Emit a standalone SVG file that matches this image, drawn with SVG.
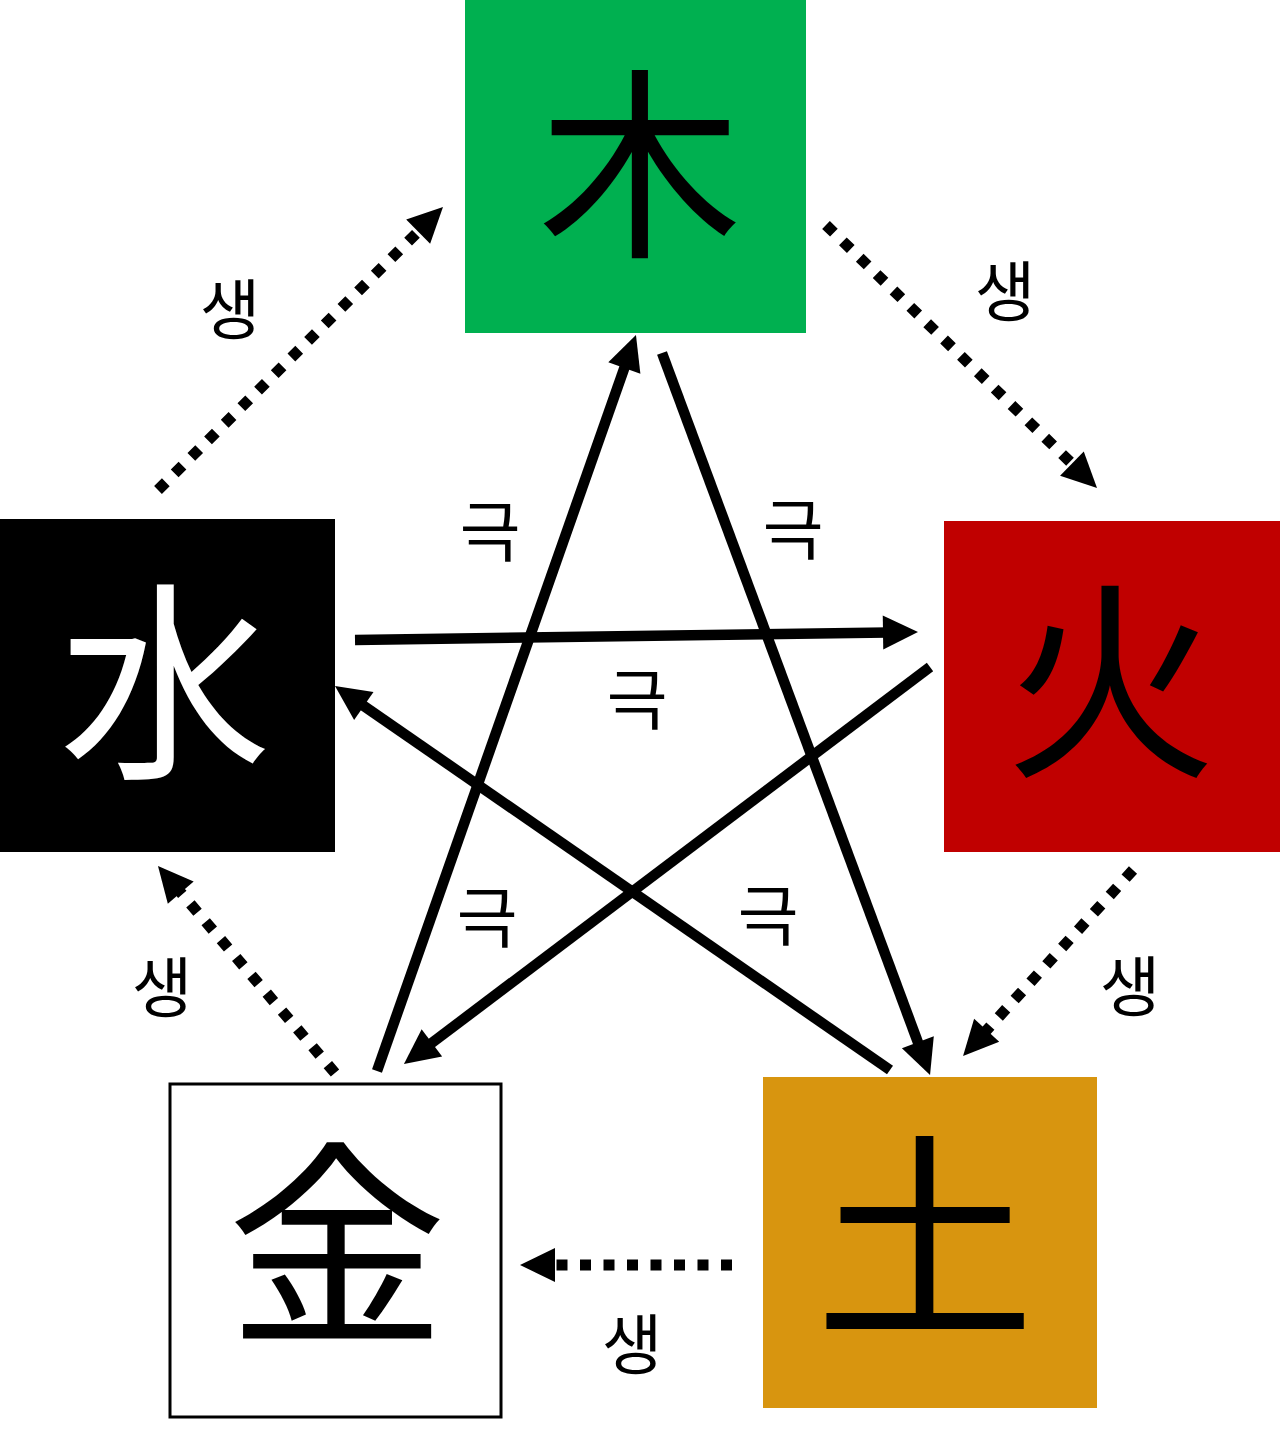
<svg xmlns="http://www.w3.org/2000/svg" width="1280" height="1431" viewBox="0 0 1280 1431">
<style>
.big{font-family:"Noto Sans CJK KR","Noto Sans CJK SC",sans-serif;font-size:212px;text-anchor:middle}
.lbl{font-family:"Noto Sans CJK KR",sans-serif;font-size:66px;text-anchor:middle;fill:#000}
.dot{stroke:#000;stroke-width:11;stroke-dasharray:11 12.5;fill:none;marker-end:url(#ah)}
.sol{stroke:#000;stroke-width:10.5;fill:none;marker-end:url(#ah)}
</style>
<defs>
<marker id="ah" markerUnits="userSpaceOnUse" markerWidth="40" markerHeight="40" viewBox="-2 -20 40 40" refX="5" refY="0" orient="auto">
<path d="M0,-17 L35,0 L0,17 z" fill="#000"/>
</marker>
</defs>
<rect width="1280" height="1431" fill="#fff"/>
<g id="wood"><rect x="465" y="0" width="341" height="333" fill="#00B050"/><text class="big" x="640" y="242" fill="#000" style="font-size:204px">木</text></g>
<g id="fire"><rect x="944" y="521" width="336" height="331" fill="#C00000"/><text class="big" x="1111" y="761" fill="#000">火</text></g>
<g id="earth"><rect x="763" y="1077" width="334" height="331" fill="#D8950F"/><text class="big" x="925" y="1321" fill="#000" style="font-size:220px">土</text></g>
<g id="metal"><rect x="170" y="1084" width="331" height="333" fill="#fff" stroke="#000" stroke-width="3"/><text class="big" x="337" y="1328" fill="#000" style="font-size:220px">金</text></g>
<g id="water"><rect x="0" y="519" width="335" height="333" fill="#000"/><text class="big" x="165" y="763" fill="#fff">水</text></g>
<g id="connectors">
<line class="dot" x1="158" y1="490" x2="421.7" y2="228.1"/>
<line class="dot" x1="826" y1="225" x2="1075.5" y2="467.1"/>
<line class="dot" x1="1133" y1="870" x2="983.3" y2="1033.9"/>
<line class="dot" x1="732" y1="1265" x2="550" y2="1265"/>
<line class="dot" x1="335" y1="1073" x2="177.5" y2="888.8"/>
<line class="sol" x1="662" y1="353" x2="919.6" y2="1046.9"/>
<line class="sol" x1="890" y1="1070" x2="359.7" y2="703.1"/>
<line class="sol" x1="355" y1="640" x2="888" y2="632.4"/>
<line class="sol" x1="930" y1="667" x2="427.9" y2="1045.9"/>
<line class="sol" x1="377" y1="1071" x2="626" y2="363.3"/>
</g>
<g id="labels">
<text class="lbl" x="230" y="334">생</text>
<text class="lbl" x="1005" y="316">생</text>
<text class="lbl" x="1130" y="1011">생</text>
<text class="lbl" x="632" y="1369">생</text>
<text class="lbl" x="162" y="1012">생</text>
<text class="lbl" x="490" y="556">극</text>
<text class="lbl" x="793" y="554">극</text>
<text class="lbl" x="637" y="724">극</text>
<text class="lbl" x="487" y="942">극</text>
<text class="lbl" x="768" y="940">극</text>
</g>
</svg>
